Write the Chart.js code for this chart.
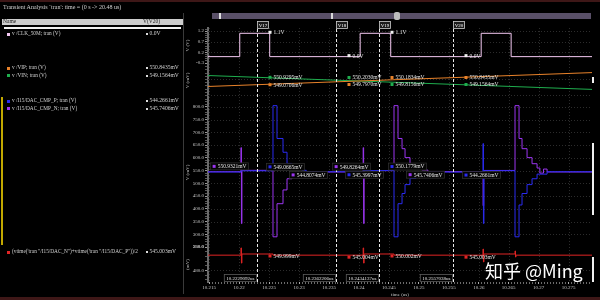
<!DOCTYPE html>
<html><head><meta charset="utf-8">
<script src="https://cdn.jsdelivr.net/npm/chart.js@4"></script>
<style>
html,body{margin:0;padding:0;background:#000;width:600px;height:300px;overflow:hidden;}
#wrap{position:relative;width:600px;height:300px;background:#000;}
canvas{position:absolute;left:0;top:0;}
.t{position:absolute;font-family:"Liberation Serif",serif;white-space:nowrap;}
</style></head>
<body><div id="wrap"><canvas id="c" width="600" height="300"></canvas></div>
<script>
// ---------------- data ----------------
const xTicks = [10.215,10.22,10.225,10.23,10.235,10.24,10.245,10.25,10.255,10.26,10.265,10.27,10.275];
const xRange = [10.2148, 10.2789];
const clkTicks = [1.2, 0.7, 0.2, -0.3];
const vinTicks = [554.5, 550.5, 546.5];
const dacTicks = [800,750,700,650,600,550,500,450,400,350,300,250];
const avgTicks = [580, 480, 430];
const clkRange = [-0.3, 1.35], vinRange = [545.75, 554.5], dacRange = [250, 835], avgRange = [430, 580];

const clkT = [10.2148, 10.2201, 10.2251, 10.2402, 10.2453, 10.2604, 10.2654, 10.2789];
const clkV = [0, 1.1, 0, 1.1, 0, 1.1, 0, 0];

const vT   = [10.2148, 10.2229092, 10.2362206, 10.2434137, 10.2557038, 10.2789];
const vipV = [548.63, 549.0706, 549.797, 550.1834, 550.8435, 552.10];
const vinV = [551.37, 550.9295, 550.203, 549.8156, 549.1564, 547.90];

const pT = [10.2148,10.2203,10.22565,10.22632,10.22732,10.22799,10.22882,10.22966,10.2305,10.2312,10.2407,10.24585,10.24652,10.24719,10.24769,10.24852,10.24953,10.25053,10.2515,10.2607,10.26078,10.26086,10.26605,10.26672,10.26722,10.26806,10.26889,10.26973,10.2714,10.2789];
const pV = [544.5,549.0665,805,676,622,578,562,555,551,545.3997,550.1779,290,420,460,495,520,536,543,544.2661,656,342,549.5,290,415,460,495,518,536,545.4,545.4];

const nT = [10.2148,10.2203,10.22038,10.22046,10.22565,10.22632,10.22732,10.22799,10.22882,10.22966,10.2312,10.2407,10.24078,10.24086,10.24585,10.24652,10.24719,10.24769,10.24852,10.24953,10.25053,10.2515,10.26072,10.26082,10.26605,10.26672,10.26722,10.26806,10.26889,10.26973,10.2702,10.2708,10.2714,10.2789];
const nV = [545.5,640,342,550.9321,290,420,474,518,534,541,544.6074,640,342,549.8264,805,676,636,601,575,560,552,545.7406,412,550.5,805,676,636,601,577,560,540,556,544.6,544.6];

const avgT = [10.2148,10.2203,10.22038,10.22046,10.22565,10.2407,10.24078,10.24086,10.24585,10.2607,10.26078,10.26086,10.26605,10.26613,10.26621,10.2789];
const avgV = [545.0,576,511,549.999,545.004,576,511,550.002,545.003,571,516,550.0,563,537,545.0,545.0];

const cursorNames = ['V17','V18','V19','V20'];
const cursorT     = [10.2229092, 10.2362206, 10.2434137, 10.2557038];
const clkAtCursor = [1.1, 0.0, 1.1, 0.0];
const vipAtCursor = [549.0706, 549.797, 550.1834, 550.8435];
const vinAtCursor = [550.9295, 550.203, 549.8156, 549.1564];
const dacNAtCursor = [550.9321, 544.8074, 549.8264, 545.7406];
const dacPAtCursor = [549.0665, 545.3997, 550.1779, 544.2661];
const avgAtCursor = [549.999, 545.004, 550.002, 545.003];

const seriesNames = ['v /CLK_50M; tran (V)','v /VIP; tran (V)','v /VIN; tran (V)','v /I15/DAC_CMP_P; tran (V)','v /I15/DAC_CMP_N; tran (V)','(vtime(\'tran "/I15/DAC_N")+vtime(\'tran "/I15/DAC_P"))/2'];
const seriesColors = ['#f4c8f2','#e8822a','#1fae4e','#2b2bf0','#9b35f0','#e02424'];
const legendValues = [clkAtCursor[3].toFixed(1)+'V', vipAtCursor[3].toFixed(4)+'mV', vinAtCursor[3].toFixed(4)+'mV', dacPAtCursor[3].toFixed(4)+'mV', dacNAtCursor[3].toFixed(4)+'mV', avgAtCursor[3].toFixed(3)+'mV'];

// ---------------- helpers ----------------
const zip = (ts, vs) => ts.map((t, i) => ({x: t, y: vs[i]}));
function withMinor(major, min, max, nSub) {
  const step = Math.abs(major[0] - major[1]) / nSub;
  const out = [];
  const s = Math.ceil((min - 1e-9) / step), e = Math.floor((max + 1e-9) / step);
  for (let k = s; k <= e; k++) out.push({value: k * step});
  return out;
}
function majorIdx(major, v, tol) { for (let i = 0; i < major.length; i++) if (Math.abs(major[i] - v) < tol) return i; return -1; }
const FONT5 = {family: '"Liberation Serif", serif', size: 5};

function yAxis(major, range, weight, title, nSub, dec) {
  const tol = Math.abs(major[0] - major[1]) / nSub / 10;
  return {
    type: 'linear', position: 'left', stack: 'v', stackWeight: weight, min: range[0], max: range[1],
    afterFit: s => { s.width = 24; },
    afterBuildTicks: s => { s.ticks = withMinor(major, range[0], range[1], nSub); },
    ticks: {autoSkip: false, font: FONT5, color: '#c4c4c4', padding: 1,
      callback: v => { const i = majorIdx(major, v, tol); return i < 0 ? '' : major[i].toFixed(dec); }},
    grid: {drawOnChartArea: false, tickLength: 3, tickColor: c => majorIdx(major, c.tick.value, tol) < 0 ? '#5a5a5a' : '#9a9a9a'},
    border: {display: true, color: '#6a6a6a', width: 2},
    title: {display: true, text: title, color: '#c4c4c4', font: FONT5, padding: {top: 1, bottom: 0}}
  };
}

// ---------------- plugins ----------------
const gridPlugin = {
  id: 'dotgrid',
  beforeDatasetsDraw(chart) {
    const {ctx, chartArea: a, scales} = chart;
    ctx.save();
    ctx.strokeStyle = '#2c2c2c'; ctx.lineWidth = 1; ctx.setLineDash([1, 2]);
    xTicks.forEach(t => { const x = Math.round(scales.x.getPixelForValue(t)) + 0.5; ctx.beginPath(); ctx.moveTo(x, a.top); ctx.lineTo(x, a.bottom); ctx.stroke(); });
    [['yClk', clkTicks], ['yVin', vinTicks], ['yDac', dacTicks], ['yAvg', avgTicks]].forEach(([id, tk]) => {
      const sc = scales[id];
      tk.forEach(v => { const y = Math.round(sc.getPixelForValue(v)) + 0.5; if (y < sc.top + 1 || y > sc.bottom - 1) return; ctx.beginPath(); ctx.moveTo(a.left, y); ctx.lineTo(a.right, y); ctx.stroke(); });
    });
    ctx.restore();
  }
};

function mlabel(ctx, x, y, sq, txt, align, boxed) {
  ctx.font = '5.5px "Liberation Serif"';
  const w = ctx.measureText(txt).width + 5;
  const x0 = align === 'right' ? x - w : x;
  if (boxed) {
    ctx.fillStyle = '#050505'; ctx.fillRect(x0 - 2, y - 3.5, w + 4, 7);
    ctx.strokeStyle = '#333333'; ctx.lineWidth = 0.7; ctx.strokeRect(x0 - 2, y - 3.5, w + 4, 7);
  }
  ctx.fillStyle = sq; ctx.fillRect(x0, y - 1.5, 3, 3);
  ctx.fillStyle = '#e4e4e4'; ctx.textAlign = 'left'; ctx.textBaseline = 'middle';
  ctx.fillText(txt, x0 + 5, y + 0.5);
}

const cursorPlugin = {
  id: 'cursors',
  afterDatasetsDraw(chart) {
    const {ctx, chartArea: a, scales} = chart;
    ctx.save();
    cursorT.forEach((t, i) => {
      const x = Math.round(scales.x.getPixelForValue(t)) + 0.5;
      ctx.strokeStyle = '#e8e8e8'; ctx.lineWidth = 1; ctx.setLineDash([3, 2]);
      ctx.beginPath(); ctx.moveTo(x, 29); ctx.lineTo(x, a.bottom); ctx.stroke();
      ctx.setLineDash([]);
      // header
      ctx.fillStyle = '#1c1c1c'; ctx.fillRect(x, 21.5, 11, 7);
      ctx.strokeStyle = '#cfcfcf'; ctx.lineWidth = 0.8; ctx.strokeRect(x, 21.5, 11, 7);
      ctx.fillStyle = '#ffffff'; ctx.font = '5px "Liberation Serif"'; ctx.textAlign = 'center'; ctx.textBaseline = 'middle';
      ctx.fillText(cursorNames[i], x + 5.5, 25.5);
      // bottom time label
      const tt = t.toFixed(7) + 'us';
      const w = ctx.measureText(tt).width;
      ctx.fillStyle = '#000'; ctx.fillRect(x - w - 5, 274.5, w + 4, 7);
      ctx.strokeStyle = '#5a5a5a'; ctx.strokeRect(x - w - 5, 274.5, w + 4, 7);
      ctx.fillStyle = '#e4e4e4'; ctx.textAlign = 'right'; ctx.fillText(tt, x - 3, 278.5);
      const xr = x + 11;
      // clock
      mlabel(ctx, xr, scales.yClk.getPixelForValue(clkAtCursor[i]) - 1, '#f0f0f0', clkAtCursor[i].toFixed(1) + 'V', 'left', false);
      // VIP / VIN
      let yp = scales.yVin.getPixelForValue(vipAtCursor[i]), yn = scales.yVin.getPixelForValue(vinAtCursor[i]);
      if (Math.abs(yp - yn) < 7) { const m = (yp + yn) / 2; if (yp < yn) { yp = m - 3.5; yn = m + 3.5; } else { yn = m - 3.5; yp = m + 3.5; } }
      mlabel(ctx, xr, yp, seriesColors[1], vipAtCursor[i].toFixed(4) + 'mV', 'left', false);
      mlabel(ctx, xr, yn, seriesColors[2], vinAtCursor[i].toFixed(4) + 'mV', 'left', false);
      // DAC
      const off = v => v > 547.5 ? -4 : 3;
      mlabel(ctx, x - 11, scales.yDac.getPixelForValue(dacNAtCursor[i]) + off(dacNAtCursor[i]), seriesColors[4], dacNAtCursor[i].toFixed(4) + 'mV', 'right', true);
      mlabel(ctx, xr, scales.yDac.getPixelForValue(dacPAtCursor[i]) + off(dacPAtCursor[i]), seriesColors[3], dacPAtCursor[i].toFixed(4) + 'mV', 'left', true);
      // avg
      mlabel(ctx, xr, scales.yAvg.getPixelForValue(avgAtCursor[i]) + 2, seriesColors[5], avgAtCursor[i].toFixed(3) + 'mV', 'left', false);
    });
    ctx.restore();
  }
};

// ---------------- chart ----------------
const xTol = 0.00005;
new Chart(document.getElementById('c'), {
  type: 'line',
  data: {datasets: [
    {data: zip(clkT, clkV), yAxisID: 'yClk', borderColor: seriesColors[0], stepped: true},
    {data: zip(vT, vipV), yAxisID: 'yVin', borderColor: seriesColors[1]},
    {data: zip(vT, vinV), yAxisID: 'yVin', borderColor: seriesColors[2]},
    {data: zip(pT, pV), yAxisID: 'yDac', borderColor: seriesColors[3], stepped: true},
    {data: zip(nT, nV), yAxisID: 'yDac', borderColor: seriesColors[4], stepped: true},
    {data: zip(avgT, avgV), yAxisID: 'yAvg', borderColor: seriesColors[5], stepped: true}
  ]},
  options: {
    responsive: false, animation: false, devicePixelRatio: 1,
    layout: {padding: {left: 184, top: 28, right: 8, bottom: 0}},
    elements: {point: {radius: 0}, line: {borderWidth: 1, tension: 0}},
    plugins: {legend: {display: false}, tooltip: {enabled: false}},
    scales: {
      x: {
        type: 'linear', min: xRange[0], max: xRange[1],
        afterFit: s => { s.height = 18; },
        afterBuildTicks: s => { s.ticks = withMinor(xTicks, xRange[0], xRange[1], 10); },
        ticks: {autoSkip: false, maxRotation: 0, font: FONT5, color: '#c4c4c4', padding: 1,
          callback: v => { const i = majorIdx(xTicks, v, xTol); return i < 0 ? '' : String(xTicks[i]); }},
        grid: {drawOnChartArea: false, tickLength: 2, tickColor: c => majorIdx(xTicks, c.tick.value, xTol) < 0 ? '#6a6a6a' : '#aaaaaa'},
        border: {display: false},
        title: {display: true, text: 'time (us)', color: '#c4c4c4', font: FONT5, padding: {top: 0, bottom: 2}}
      },
      yAvg: yAxis(avgTicks, avgRange, 35, '(mV)', 5, 1),
      yDac: yAxis(dacTicks, dacRange, 149, 'V (mV)', 5, 1),
      yVin: yAxis(vinTicks, vinRange, 35, 'V (mV)', 5, 1),
      yClk: yAxis(clkTicks, clkRange, 35, 'V (V)', 5, 1)
    }
  },
  plugins: [gridPlugin, cursorPlugin]
});

// ---------------- side panel & overlays (HTML) ----------------
const wrap = document.getElementById('wrap');
function box(x, y, w, h, bg, extra) { const d = document.createElement('div'); d.style.cssText = `position:absolute;left:${x}px;top:${y}px;width:${w}px;height:${h}px;background:${bg};${extra||''}`; wrap.appendChild(d); return d; }
function txt(x, yc, s, color, size, extra) { const d = document.createElement('div'); d.className = 't'; d.textContent = s; d.style.cssText += `left:${x}px;top:${yc - size/2}px;font-size:${size}px;line-height:${size}px;color:${color};${extra||''}`; wrap.appendChild(d); return d; }

box(0, 0, 600, 2, '#3e1717');
box(0, 297, 600, 3, '#3e1717');
txt(3, 7, 'Transient Analysis `tran\': time = (0 s -> 20.48 us)', '#cfcfcf', 6);
box(2, 19, 181, 6, '#cdcdcd');
txt(3, 22, 'Name', '#222', 5.5);
txt(143, 22, 'V(V20)', '#222', 5.5);
box(4, 27, 177, 2, '#f2f2f2');
box(183, 13, 1, 281, '#3a3a3a');
box(1, 97, 2, 148, '#c2a800');

const rowY = [34, 68, 75.5, 101, 108.5, 252];
seriesNames.forEach((n, i) => {
  box(7, rowY[i] - 1.5, 3, 3, seriesColors[i]);
  txt(12, rowY[i], n, '#d0d0d0', 5.3);
  box(146, rowY[i] - 1, 2, 2, '#dcdcdc');
  txt(149.5, rowY[i], legendValues[i], '#d0d0d0', 5.6);
});

// top scrollbar
box(212, 13, 379, 6, '#5a5068');
box(219, 13, 2, 6, '#e0e0e0');
box(331, 13, 2, 6, '#d8d8d8');
box(394, 12, 6, 8, '#bdbdbd', 'border-radius:2px;');
// right scroll markers
box(592, 77, 2, 6, '#f0f0f0');
box(592, 143, 2, 72, '#f0f0f0');
box(592, 257, 2, 25, '#f0f0f0');

// watermark
txt(485, 270, '知乎 @Ming', '#ffffff', 18, 'font-family:"Noto Sans CJK SC",sans-serif;text-shadow:0 0 2px rgba(0,0,0,0.6);');
</script>
</body></html>
